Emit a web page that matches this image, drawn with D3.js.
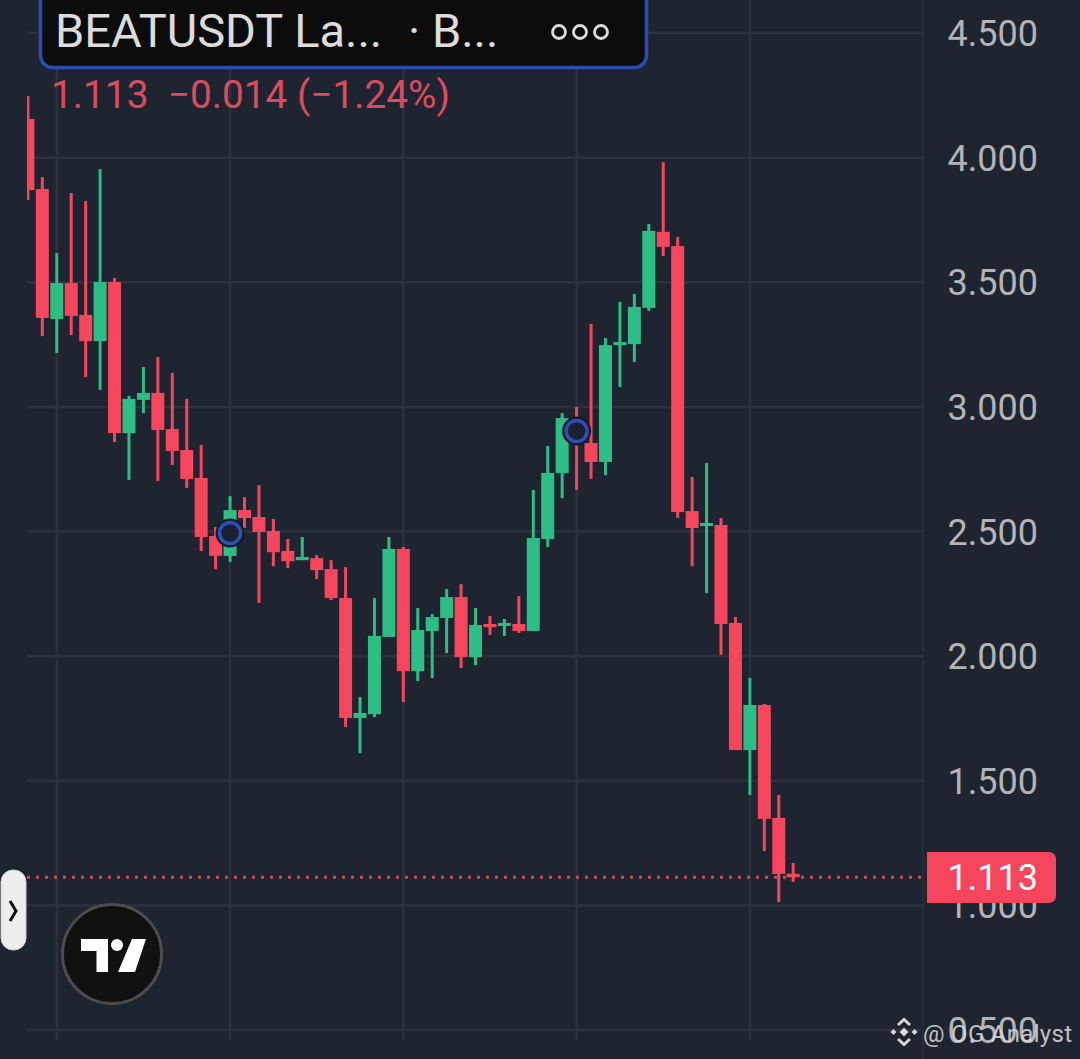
<!DOCTYPE html>
<html>
<head>
<meta charset="utf-8">
<title>BEATUSDT</title>
<script src="https://cdn.jsdelivr.net/npm/d3@7"></script>
<style>
  html, body { margin: 0; padding: 0; background: #1f2530; }
  svg { display: block; font-family: Roboto, sans-serif; }
</style>
</head>
<body>
<div id="graph"></div>
<script>
// ohlc, one candle per entry
const opens = [4.155,3.874,3.353,3.497,3.369,3.264,3.501,2.895,3.028,3.056,2.911,2.827,2.715,2.482,2.402,2.586,2.558,2.502,2.422,2.385,2.393,2.349,2.233,1.752,1.767,2.077,2.430,1.940,2.101,2.153,2.237,1.996,2.129,2.121,2.129,2.101,2.470,2.735,2.947,2.855,2.779,3.248,3.252,3.397,3.702,3.645,2.582,2.522,2.526,2.133,1.623,1.804,1.351,1.127];
const highs = [4.247,3.922,3.617,3.858,3.826,3.954,3.517,3.044,3.160,3.200,3.136,3.032,2.847,2.518,2.642,2.638,2.686,2.550,2.470,2.478,2.405,2.385,2.357,1.836,2.233,2.478,2.438,2.193,2.169,2.269,2.289,2.193,2.161,2.149,2.241,2.667,2.843,2.975,3.000,3.333,3.276,3.421,3.453,3.734,3.982,3.682,2.719,2.775,2.554,2.157,1.912,1.808,1.443,1.170];
const lows = [3.830,3.284,3.216,3.288,3.120,3.068,2.859,2.707,2.975,2.703,2.767,2.675,2.422,2.349,2.378,2.514,2.213,2.361,2.353,2.385,2.309,2.225,1.716,1.611,1.756,2.077,1.816,1.900,1.912,2.012,1.952,1.964,2.085,2.081,2.093,2.101,2.438,2.634,2.667,2.711,2.727,3.080,3.180,3.385,3.605,2.554,2.361,2.253,2.005,1.623,1.443,1.218,1.013,1.094];
const closes = [3.870,3.357,3.497,3.365,3.264,3.501,2.895,3.032,3.056,2.907,2.823,2.711,2.478,2.402,2.586,2.554,2.498,2.417,2.381,2.398,2.345,2.233,1.752,1.772,2.081,2.430,1.940,2.105,2.157,2.237,1.996,2.125,2.116,2.133,2.101,2.474,2.735,2.955,2.851,2.779,3.248,3.260,3.401,3.706,3.642,2.578,2.514,2.534,2.129,1.623,1.804,1.347,1.126,1.113];

const priceTicks = [0.5, 1, 1.5, 2, 2.5, 3, 3.5, 4, 4.5];
const timeTicks = [2, 14, 26, 38, 50];
const markerIndex = [14, 38];
const markerPrice = [2.494, 2.903];
const lastPrice = 1.113;

const red = "#F6465D";
const green = "#2EBD85";
const bg = "#1f2530";
const gridColor = "#2c323d";

const width = 1080;
const height = 1059;

const svg = d3.select("#graph").append("svg")
  .attr("width", width)
  .attr("height", height)
  .attr("viewBox", `0 0 ${width} ${height}`);

svg.append("rect").attr("width", width).attr("height", height).attr("fill", bg);

const x = d3.scaleLinear().domain([0, 53]).range([27.9, 793.2]);
const y = d3.scaleLinear().domain([0.5, 4.5]).range([1030, 33]);

svg.append("defs").append("clipPath").attr("id", "plot")
  .append("rect").attr("x", 27).attr("y", 0).attr("width", 896).attr("height", height);

// grid
svg.append("g").selectAll("line").data(priceTicks).enter().append("line")
  .attr("x1", 27).attr("x2", 923)
  .attr("y1", d => y(d)).attr("y2", d => y(d))
  .attr("stroke", gridColor).attr("stroke-width", 2.5);

svg.append("g").selectAll("line").data(timeTicks).enter().append("line")
  .attr("x1", d => x(d)).attr("x2", d => x(d))
  .attr("y1", 0).attr("y2", 1040)
  .attr("stroke", gridColor).attr("stroke-width", 2.5);

svg.append("line").attr("x1", 923).attr("x2", 923).attr("y1", 0).attr("y2", height)
  .attr("stroke", "#2a303b").attr("stroke-width", 1.5);

// price axis
const axis = svg.append("g")
  .attr("transform", "translate(1038,0)")
  .call(d3.axisLeft(y).tickValues(priceTicks).tickFormat(d3.format(".3f")).tickSize(0).tickPadding(0));
axis.select(".domain").remove();
axis.selectAll("text")
  .attr("font-family", "Roboto, sans-serif")
  .attr("font-size", 36)
  .attr("fill", "#b2b4b9")
  .attr("dy", "0.35em");

// last price dotted line
svg.append("line")
  .attr("x1", 27).attr("x2", 923)
  .attr("y1", y(lastPrice)).attr("y2", y(lastPrice))
  .attr("stroke", "#c94a60").attr("stroke-width", 3).attr("stroke-dasharray", "3 6");

// candles
const candles = svg.append("g").attr("clip-path", "url(#plot)");
const idx = d3.range(opens.length);
const colorOf = i => closes[i] >= opens[i] ? green : red;

candles.selectAll("line.wick").data(idx).enter().append("line")
  .attr("class", "wick")
  .attr("x1", i => x(i)).attr("x2", i => x(i))
  .attr("y1", i => y(highs[i])).attr("y2", i => y(lows[i]))
  .attr("stroke", colorOf)
  .attr("stroke-width", 3);

candles.selectAll("rect.body").data(idx).enter().append("rect")
  .attr("class", "body")
  .attr("x", i => x(i) - 6.5)
  .attr("width", 13)
  .attr("y", i => y(Math.max(opens[i], closes[i])))
  .attr("height", i => Math.max(3, Math.abs(y(opens[i]) - y(closes[i]))))
  .attr("fill", colorOf);

// round markers
const markers = svg.append("g").selectAll("g").data(markerIndex).enter().append("g")
  .attr("transform", (d, i) => `translate(${x(d)},${y(markerPrice[i])})`);
markers.append("circle").attr("r", 14.5).attr("fill", "#141a2a");
markers.append("circle").attr("r", 10.5).attr("fill", "#1b2130")
  .attr("stroke", "#2d50b8").attr("stroke-width", 3.5);

// header box
svg.append("rect")
  .attr("x", 40.5).attr("y", -20).attr("width", 606).attr("height", 87.5).attr("rx", 12)
  .attr("fill", "#0c0c0c").attr("stroke", "#2a4cb0").attr("stroke-width", 3.5);
svg.append("text").attr("x", 55).attr("y", 47).attr("font-size", 47).attr("fill", "#dcdcdc").text("BEATUSDT La...");
svg.append("text").attr("x", 408).attr("y", 47).attr("font-size", 47).attr("fill", "#dcdcdc").text("· B...");
svg.append("g").selectAll("circle").data([0, 1, 2]).enter().append("circle")
  .attr("cx", d => 559 + d * 21).attr("cy", 32).attr("r", 6.5)
  .attr("fill", "none").attr("stroke", "#dcdcdc").attr("stroke-width", 2.8);

svg.append("text").attr("x", 51).attr("y", 108).attr("font-size", 38.8).attr("fill", "#d94c60")
  .style("white-space", "pre").text("1.113  −0.014 (−1.24%)");

// last price tag
svg.append("path")
  .attr("d", "M927,852H1049a7,7 0 0 1 7,7V896a7,7 0 0 1 -7,7H927Z")
  .attr("fill", red);
svg.append("text").attr("x", 1038).attr("y", y(lastPrice)).attr("dy", "0.35em")
  .attr("text-anchor", "end").attr("font-size", 36).attr("fill", "#fff")
  .text(d3.format(".3f")(lastPrice));

// side handle
svg.append("rect").attr("x", 1).attr("y", 870).attr("width", 25).attr("height", 80).attr("rx", 12)
  .attr("fill", "#eeeeef").attr("stroke", "#cfcfcf").attr("stroke-width", 1);
svg.append("path").attr("d", "M10,901L16,911L10,921").attr("fill", "none").attr("stroke", "#111").attr("stroke-width", 3);

// tv logo
svg.append("circle").attr("cx", 112).attr("cy", 954).attr("r", 49.5)
  .attr("fill", "#111").attr("stroke", "#4c4c4c").attr("stroke-width", 3);
svg.append("path").attr("d", "M81,939H108V972H96.5V951H81Z").attr("fill", "#fff");
svg.append("circle").attr("cx", 117).attr("cy", 945).attr("r", 6).attr("fill", "#fff");
svg.append("path").attr("d", "M132,939H146L135,972H118Z").attr("fill", "#fff");

// watermark
const mark = svg.append("g").attr("transform", "translate(904,1032)");
mark.append("path").attr("d", "M-6,-7L0,-12.5L6,-7M-6,7L0,12.5L6,7")
  .attr("fill", "none").attr("stroke", "#d6d7da").attr("stroke-width", 3);
[[-10.5, 0, 3], [10.5, 0, 3], [0, 0, 4.5]].forEach(p => {
  mark.append("path").attr("d", `M${p[0]},${p[1] - p[2]}l${p[2]},${p[2]}l${-p[2]},${p[2]}l${-p[2]},${-p[2]}Z`)
    .attr("fill", "#d6d7da");
});
svg.append("text").attr("x", 923).attr("y", 1042).attr("font-size", 24).attr("letter-spacing", 0.3)
  .attr("fill", "#d6d7da").attr("fill-opacity", 0.9)
  .text("@ OG Analyst");
</script>
</body>
</html>
